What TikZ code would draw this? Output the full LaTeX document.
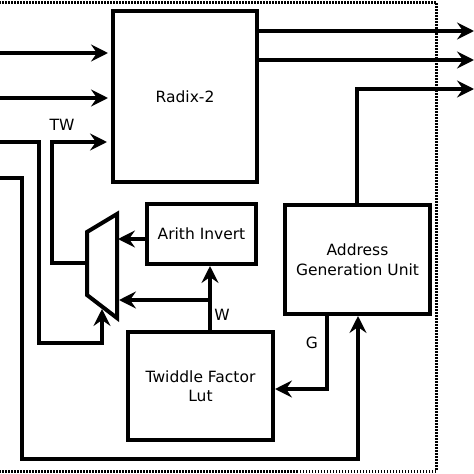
\documentclass[tikz,border=0pt]{standalone}
\usepackage{fontspec}
\setmainfont{DejaVu Sans}
\usetikzlibrary{arrows.meta}
\begin{document}
\begin{tikzpicture}[x=1pt,y=-1pt,
  line width=4pt,
  blk/.style={draw, rectangle, line width=4pt, align=center, inner sep=0pt,
    font=\fontsize{15.5}{19.5}\selectfont},
  lbl/.style={font=\fontsize{15.5}{19.5}\selectfont, inner sep=0pt},
  arr/.style={-{Stealth[length=17pt,width=17pt,inset=6pt]}},
  frame/.style={line width=3pt, dash pattern=on 1.5pt off 1.5pt}
]
\useasboundingbox (0,0) rectangle (474,474);
\clip (0,0) rectangle (474,474);
% dotted frame
\draw[frame] (-10,2) -- (436,2) -- (436,471) -- (-10,471);
% blocks
\node[blk, minimum width=144pt, minimum height=171pt] (radix) at (185,96.5) {\raisebox{-3pt}{Radix-2}};
\node[blk, minimum width=109pt, minimum height=60pt] (arith) at (201.5,234) {\raisebox{-2pt}{Arith Invert}};
\node[blk, minimum width=145pt, minimum height=109pt] (agu) at (357.5,259.5) {Address\\Generation Unit};
\node[blk, minimum width=145pt, minimum height=108pt] (tw) at (200.5,386) {Twiddle Factor\\Lut};
% mux
\coordinate (m1) at (87,232);
\coordinate (m2) at (117,214);
\coordinate (m3) at (117,318);
\coordinate (m4) at (87,295);
\draw[line join=miter] (m1) -- (m2) -- (m3) -- (m4) -- cycle;
\coordinate (muxout) at (87,263);
\coordinate (muxsel) at (102,309);
% inputs
\coordinate (in1) at (0,53);
\coordinate (in2) at (0,98);
\coordinate (in3) at (0,142);
\coordinate (in4) at (0,178);
\draw[arr] (in1) -- (108,53);
\draw[arr] (in2) -- (108,98);
\coordinate (twy) at (52,142);
\draw[arr] (muxout) -- (52,263) -- (twy) -- (107,142);
\draw[arr] (in3) -- (39,142) -- (39,343) -- (102,343) -- (muxsel);
\coordinate (agin) at (358,459);
\draw[arr] (in4) -- (22,178) -- (22,459) -- (agin) -- (agin |- agu.south);
% arith -> mux
\coordinate (ai) at (147,239);
\draw[arr] (ai -| arith.west) -- (118,239);
% W
\coordinate (wx) at (210,300);
\draw[arr] (wx |- tw.north) -- (wx |- arith.south);
\draw[arr] (wx) -- (119,300);
\node[lbl] (wl) at (222,315) {W};
% G
\coordinate (gx) at (327,389);
\draw[arr] (gx |- agu.south) -- (gx) -- (gx -| tw.east);
\node[lbl] (gl) at (312,343) {G};
\node[lbl] (twl) at (62,125) {TW};
% outputs
\coordinate (o1) at (474,31);
\coordinate (o2) at (474,60);
\coordinate (o3) at (474,89);
\draw[arr] (o1 -| radix.east) -- (o1);
\draw[arr] (o2 -| radix.east) -- (o2);
\draw[arr] (agu.north -| 357,0) -- (357,89) -- (o3);
\end{tikzpicture}
\end{document}
